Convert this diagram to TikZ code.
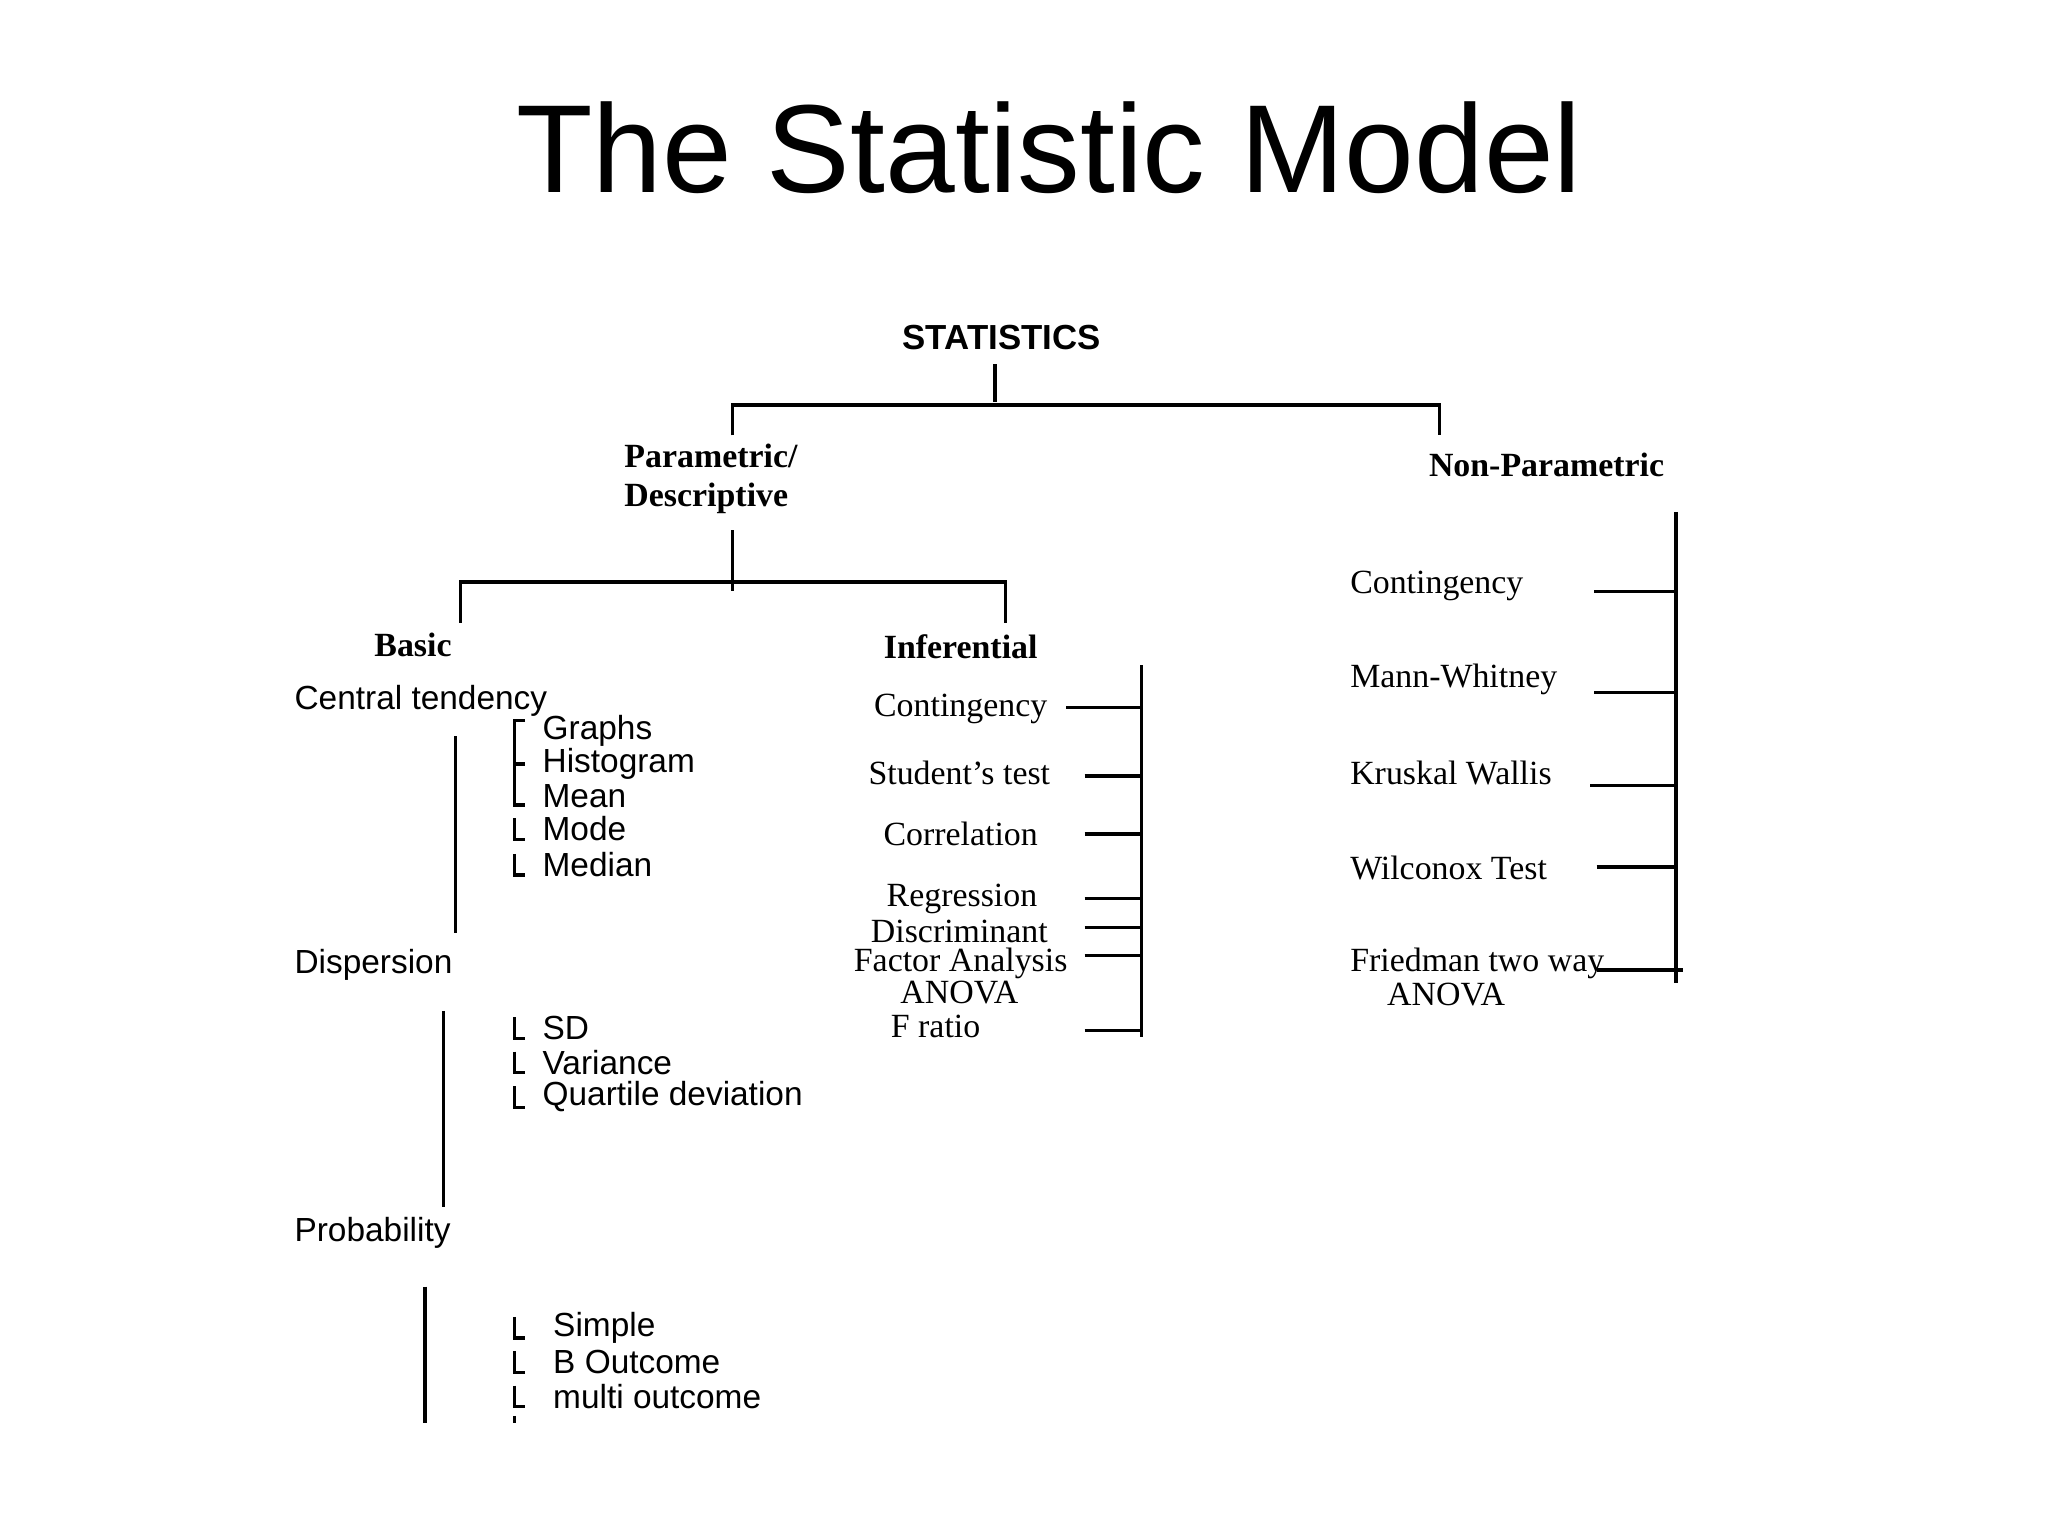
\documentclass[tikz,border=0pt]{standalone}
\usepackage{fontspec}
\setmainfont{Liberation Serif}
\setsansfont{Liberation Sans}
\begin{document}
\begin{tikzpicture}[x=0.01cm,y=-0.01cm,line width=0.7pt,
  ser/.style={font=\fontsize{7.3}{8.5}\selectfont\bfseries\rmfamily,inner sep=0pt},
  sers/.style={font=\fontsize{7.3}{8.5}\selectfont\rmfamily,inner sep=0pt},
  san/.style={font=\fontsize{7.2}{8.5}\selectfont\sffamily,inner sep=0pt}]
\useasboundingbox (0,0) rectangle (1552,1164);
\node[font=\fontsize{27}{30}\selectfont\sffamily] (title) at (795,112) {The Statistic Model};
\node[font=\fontsize{7.5}{9}\selectfont\sffamily\bfseries] (stat) at (759,256) {STATISTICS};
\draw (754,276)--(754,305) (555,330)--(555,307)--(1091,307)--(1091,330);
\node[ser,align=left,anchor=west] (par) at (472,363) {Parametric/\\Descriptive};
\node[ser] (non) at (1172,352) {Non-Parametric};
\draw (555,402)--(555,448) (349,472)--(349,441)--(762,441)--(762,472);
\node[ser] (basic) at (313,489) {Basic};
\node[ser] (inf) at (728,490) {Inferential};
% Basic
\node[san,anchor=west] (ct) at (222,531) {Central tendency};
\draw (345,558)--(345,707);
\foreach \t/\y [count=\i] in {Graphs/554,Histogram/579,Mean/603,Mode/628,Median/655}
  \node[san,anchor=west] (b\i) at (410,\y) {\t};
\draw (398,546)--(390,546)--(390,610)--(398,610);
\draw (390,579)--(398,579);
\foreach \y in {628,655} \draw (390,\y-8)--(390,\y+8)--(398,\y+8);
\node[san,anchor=west] (disp) at (222,731) {Dispersion};
\draw (336,766)--(336,915);
\foreach \t/\y [count=\i] in {SD/779,Variance/805,Quartile deviation/831}
  {\node[san,anchor=west] (d\i) at (410,\y) {\t}; \draw (390,\y-8)--(390,\y+8)--(398,\y+8);}
\node[san,anchor=west] (prob) at (222,934) {Probability};
\draw (322,975)--(322,1078);
\foreach \t/\y [count=\i] in {Simple/1006,B Outcome/1032,multi outcome/1058}
  {\node[san,anchor=west] (p\i) at (418,\y) {\t}; \draw (390,\y-8)--(390,\y+8)--(398,\y+8);}
\draw (390,1073)--(390,1078);
% Inferential
\draw (865,504)--(865,786);
\node[sers] (i1) at (728,537) {Contingency};
\node[sers] (i2) at (727,586) {Student's test};
\node[sers] (i3) at (728,632) {Correlation};
\node[sers] (i4) at (729,681) {Regression};
\node[sers] (i5) at (727,706) {Discriminant};
\node[sers] (i6) at (728,730) {Factor Analysis};
\node[sers] (i7) at (727,752) {ANOVA};
\node[sers] (i8) at (709,778) {F ratio};
\draw (808,536)--(866,536) (822,588)--(866,588) (822,632)--(866,632) (822,681)--(866,681)
      (822,703)--(866,703) (822,724)--(866,724) (822,781)--(866,781);
% Non-parametric
\draw (1270,388)--(1270,745);
\node[sers,anchor=west] (n1) at (1022,444) {Contingency};
\node[sers,anchor=west] (n2) at (1022,515) {Mann-Whitney};
\node[sers,anchor=west] (n3) at (1022,586) {Kruskal Wallis};
\node[sers,anchor=west] (n4) at (1022,658) {Wilconox Test};
\node[sers,anchor=west] (n5) at (1022,730) {Friedman two way};
\node[sers,anchor=west] (n6) at (1050,754) {ANOVA};
\draw (1208,448)--(1270,448) (1208,525)--(1270,525) (1205,595)--(1270,595)
      (1210,657)--(1270,657) (1210,735)--(1275,735);
\end{tikzpicture}
\end{document}
